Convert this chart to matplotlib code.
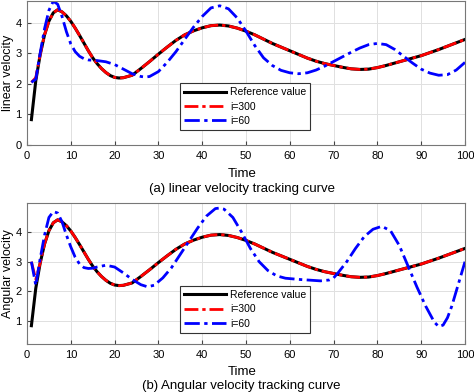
import matplotlib

matplotlib.use("Agg")
import matplotlib.pyplot as plt

plt.rcParams["font.family"] = ["Liberation Sans", "DejaVu Sans"]

# reference trajectory (same in both panels)
t_ref = [1, 2, 3, 4, 5, 6, 7, 8, 9, 10, 11, 12, 13, 14, 15, 16, 17, 18, 19, 20,
         21, 22, 24, 26, 28, 30, 32, 34, 36, 38, 40, 42, 44, 46, 48, 50, 52, 54,
         56, 58, 60, 62, 64, 66, 68, 70, 72, 74, 76, 78, 80, 82, 84, 86, 88, 90,
         92, 94, 96, 98, 100]
v_ref = [0.83, 2.1, 2.95, 3.6, 4.05, 4.32, 4.42, 4.35, 4.22, 4.04, 3.82, 3.58,
         3.33, 3.08, 2.85, 2.66, 2.5, 2.37, 2.27, 2.21, 2.19, 2.2, 2.28, 2.5,
         2.73, 2.97, 3.2, 3.42, 3.6, 3.73, 3.83, 3.9, 3.92, 3.89, 3.82, 3.72,
         3.6, 3.46, 3.32, 3.2, 3.08, 2.96, 2.84, 2.74, 2.66, 2.6, 2.54, 2.49,
         2.47, 2.48, 2.53, 2.6, 2.68, 2.76, 2.84, 2.92, 3.02, 3.12, 3.23, 3.34,
         3.45]

# i=300, linear velocity
v300_a = [2.05, 2.2, 2.95, 3.6, 4.05, 4.32, 4.42, 4.35, 4.22, 4.04, 3.82, 3.58,
          3.33, 3.08, 2.85, 2.66, 2.5, 2.37, 2.27, 2.21, 2.19, 2.2, 2.28, 2.5,
          2.73, 2.97, 3.2, 3.42, 3.6, 3.73, 3.83, 3.9, 3.92, 3.89, 3.82, 3.72,
          3.6, 3.46, 3.32, 3.2, 3.08, 2.96, 2.84, 2.74, 2.66, 2.6, 2.54, 2.49,
          2.47, 2.48, 2.53, 2.6, 2.68, 2.76, 2.84, 2.92, 3.02, 3.12, 3.23, 3.34,
          3.45]
# i=300, angular velocity
v300_b = [3.0, 2.4, 2.95, 3.6, 4.05, 4.32, 4.42, 4.35, 4.22, 4.04, 3.82, 3.58,
          3.33, 3.08, 2.85, 2.66, 2.5, 2.37, 2.27, 2.21, 2.19, 2.2, 2.28, 2.5,
          2.73, 2.97, 3.2, 3.42, 3.6, 3.73, 3.83, 3.9, 3.92, 3.89, 3.82, 3.72,
          3.6, 3.46, 3.32, 3.2, 3.08, 2.96, 2.84, 2.74, 2.66, 2.6, 2.54, 2.49,
          2.47, 2.48, 2.53, 2.6, 2.68, 2.76, 2.84, 2.92, 3.02, 3.12, 3.23, 3.34,
          3.45]

# i=60, linear velocity
t60_a = [1, 2, 3, 4, 5, 6, 7, 8, 9, 10, 11, 12, 13, 14, 16, 18, 20, 22, 24, 26,
         27, 28, 30, 32, 34, 36, 38, 40, 42, 44, 46, 48, 50, 52, 54, 56, 58, 60,
         62, 64, 66, 68, 70, 72, 74, 76, 78, 80, 82, 84, 86, 88, 90, 92, 94, 96,
         98, 100]
v60_a = [2.05, 2.15, 3.0, 3.8, 4.4, 4.7, 4.6, 4.2, 3.7, 3.3, 3.05, 2.9, 2.82,
         2.78, 2.76, 2.72, 2.63, 2.48, 2.33, 2.24, 2.22, 2.24, 2.4, 2.7, 3.05,
         3.45, 3.85, 4.2, 4.48, 4.55, 4.45, 4.15, 3.72, 3.25, 2.85, 2.6, 2.44,
         2.36, 2.33, 2.36, 2.45, 2.58, 2.73, 2.88, 3.03, 3.17, 3.28, 3.32, 3.28,
         3.12, 2.9, 2.68, 2.48, 2.35, 2.28, 2.3, 2.45, 2.7]

# i=60, angular velocity
t60_b = [1, 2, 3, 4, 5, 6, 7, 8, 9, 10, 11, 12, 13, 14, 15, 16, 18, 20, 22, 24,
         26, 27.5, 29, 31, 33, 35, 37, 39, 41, 43, 44, 45, 47, 49, 51, 53, 55,
         57, 59, 62, 65, 67, 69, 70, 71, 73, 75, 77, 79, 81, 83, 85, 87, 89, 91,
         93, 94, 95, 96, 97, 98, 99, 100]
v60_b = [3.0, 2.2, 3.1, 3.9, 4.5, 4.7, 4.65, 4.35, 3.9, 3.5, 3.15, 2.92, 2.8,
         2.77, 2.78, 2.82, 2.88, 2.82, 2.62, 2.4, 2.22, 2.15, 2.2, 2.45, 2.8,
         3.25, 3.7, 4.15, 4.55, 4.8, 4.82, 4.78, 4.5, 4.0, 3.45, 3.0, 2.7, 2.52,
         2.44, 2.4, 2.37, 2.35, 2.38, 2.45, 2.62, 3.0, 3.45, 3.85, 4.1, 4.2,
         4.05, 3.55, 2.85, 2.15, 1.5, 0.95, 0.8, 0.85, 1.1, 1.5, 2.0, 2.5, 3.0]

x_ticks = list(range(0, 101, 10))

fig = plt.figure(figsize=(4.74, 3.92), dpi=100)
ax_a = fig.add_axes([0.057, 0.630, 0.924, 0.367])
ax_b = fig.add_axes([0.057, 0.1217, 0.924, 0.3612])

panels = [
    (ax_a, v300_a, t60_a, v60_a, (0, 4.7), [0, 1, 2, 3, 4], "linear velocity",
     (0.349, 0.104)),
    (ax_b, v300_b, t60_b, v60_b, (0.2, 5.0), [1, 2, 3, 4], "Angular velocity",
     (0.349, 0.08)),
]

for ax, v300, t60, v60, ylim, yt, ylab, leg_pos in panels:
    ax.plot(t_ref, v_ref, "-", color="black", lw=2.2, label="Reference value")
    ax.plot(t_ref, v300, color="red", lw=2.0, dashes=(5, 1.4, 1.2, 1.4),
            label="i=300")
    ax.plot(t60, v60, color="blue", lw=2.0, dashes=(5.5, 1.6, 1.2, 1.6),
            label="i=60")
    ax.set_xlim(0, 100)
    ax.set_ylim(*ylim)
    ax.set_xticks(x_ticks)
    ax.set_yticks(yt)
    ax.tick_params(direction="in", labelsize=8, length=3, color="#444",
                   pad=4)
    ax.grid(True, color="#e0e0e0", lw=0.7)
    ax.set_axisbelow(True)
    for s in ax.spines.values():
        s.set_color("#777")
        s.set_linewidth(0.8)
    ax.set_ylabel(ylab, fontsize=9, labelpad=1)
    leg = ax.legend(loc="lower left", bbox_to_anchor=leg_pos, fontsize=7.5,
                    handlelength=4.0, handletextpad=0.4, borderpad=0.4,
                    labelspacing=0.42, fancybox=False, framealpha=1,
                    borderaxespad=0)
    leg.get_frame().set_edgecolor("#333")
    leg.get_frame().set_linewidth(0.8)

fig.text(0.51, 1 - 174 / 392, "Time", ha="center", va="center", fontsize=9.5)
fig.text(0.51, 1 - 189 / 392, "(a) linear velocity tracking curve",
         ha="center", va="center", fontsize=9.5)
fig.text(0.51, 1 - 372 / 392, "Time", ha="center", va="center", fontsize=9.5)
fig.text(0.51, 1 - 386 / 392, "(b) Angular velocity tracking curve",
         ha="center", va="center", fontsize=9.5)

fig.savefig("out.png", dpi=100)
